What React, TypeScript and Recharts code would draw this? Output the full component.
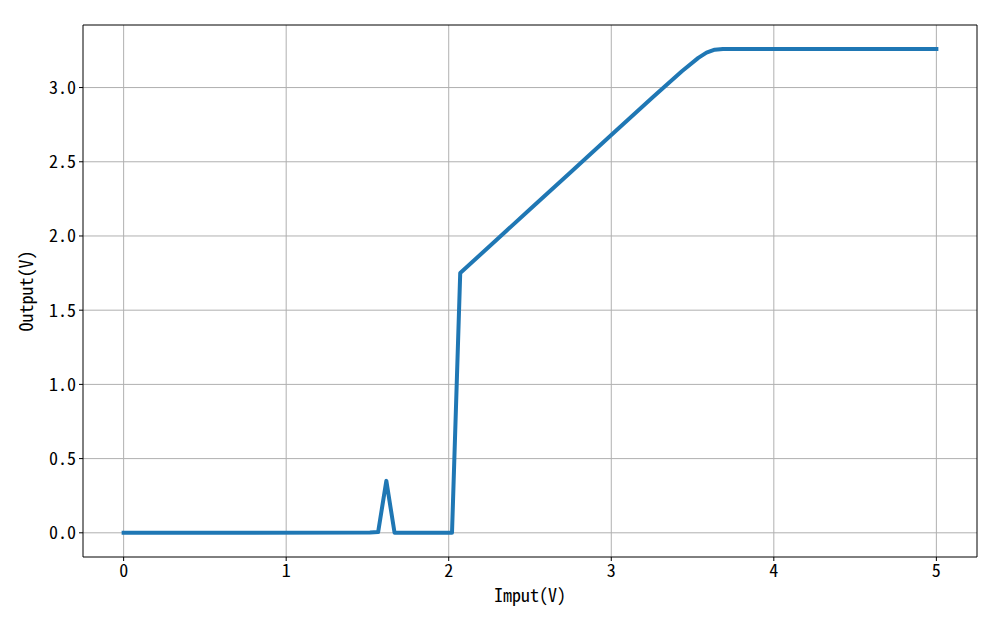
import React from "react";
import {
  LineChart,
  Line,
  XAxis,
  YAxis,
  CartesianGrid,
  ReferenceLine,
} from "recharts";

const inputV: number[] = [
  0, 1.5152, 1.5657, 1.6162, 1.6667, 2.0202, 2.0707, 2.3, 2.5, 2.75, 3.0,
  3.25, 3.4343, 3.5354, 3.5859, 3.6364, 3.6869, 5.0,
];
const outputV: number[] = [
  0, 0.002, 0.005, 0.35, 0, 0, 1.75, 1.98, 2.18, 2.43, 2.68, 2.93, 3.11,
  3.2, 3.235, 3.255, 3.26, 3.26,
];
const xTicks: number[] = [0, 1, 2, 3, 4, 5];
const yTicks: number[] = [0, 0.5, 1.0, 1.5, 2.0, 2.5, 3.0];
const xLabel = "Imput(V)";
const yLabel = "Output(V)";
const xDomain: [number, number] = [-0.25, 5.25];
const yDomain: [number, number] = [-0.163, 3.4215];

const data = inputV.map((x, i) => ({ x, y: outputV[i] }));

const FONT = "'Noto Sans Mono CJK SC', 'Noto Sans CJK SC', 'DejaVu Sans Mono', monospace";
const tickStyle = { fill: "#000", fontSize: 18, fontFamily: FONT };

export default function App() {
  return (
    <div style={{ position: "absolute", left: 0, top: 0, width: 1000, height: 625, background: "#fff" }}>
      <LineChart
        width={1000}
        height={625}
        data={data}
        margin={{ top: 25, right: 23, bottom: 23, left: 23 }}
      >
        <CartesianGrid stroke="#b0b0b0" strokeWidth={1} horizontalValues={yTicks} verticalValues={xTicks} />
        <XAxis
          dataKey="x"
          type="number"
          domain={xDomain}
          ticks={xTicks}
          tickFormatter={(v: number) => String(v)}
          allowDataOverflow
          height={45}
          tick={tickStyle}
          tickSize={4}
          tickMargin={3}
          axisLine={{ stroke: "#000", strokeWidth: 1 }}
          tickLine={{ stroke: "#000" }}
          label={{ value: xLabel, position: "insideBottom", offset: 0, style: { fill: "#000", fontSize: 18, fontFamily: FONT } }}
        />
        <YAxis
          type="number"
          domain={yDomain}
          ticks={yTicks}
          allowDataOverflow
          tickFormatter={(v: number) => v.toFixed(1)}
          width={60}
          tick={tickStyle}
          tickSize={4}
          tickMargin={3}
          axisLine={{ stroke: "#000", strokeWidth: 1 }}
          tickLine={{ stroke: "#000" }}
          label={{ value: yLabel, angle: -90, position: "insideLeft", offset: 0, dx: 4, style: { fill: "#000", fontSize: 18, fontFamily: FONT, textAnchor: "middle" } }}
        />
        <ReferenceLine y={yDomain[1]} stroke="#000" strokeWidth={1} />
        <ReferenceLine x={xDomain[1]} stroke="#000" strokeWidth={1} />
        <Line
          type="linear"
          dataKey="y"
          stroke="#1f77b4"
          strokeWidth={4}
          dot={false}
          isAnimationActive={false}
          strokeLinejoin="round"
          strokeLinecap="square"
        />
      </LineChart>
    </div>
  );
}
